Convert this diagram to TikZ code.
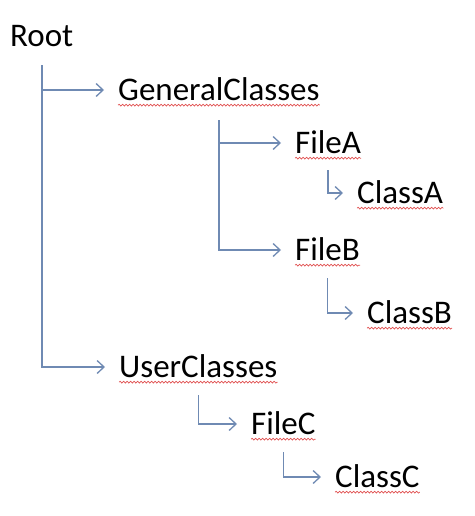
\documentclass[tikz,border=0pt]{standalone}
\usepackage{fontspec}
\setmainfont{Carlito}
\usetikzlibrary{arrows.meta,decorations.pathmorphing}
\definecolor{linkblue}{HTML}{6F8AB3}
\definecolor{spellred}{HTML}{E05050}
\tikzset{
  label/.style={anchor=base west,inner sep=0pt,text height=20pt,text depth=0pt,
    font=\fontsize{33}{39}\selectfont},
  link/.style={draw=linkblue,line width=1.5pt,
    -{Straight Barb[length=7pt,width=13pt,line width=1.3pt]}},
  squiggle/.style={draw=spellred,line width=0.7pt,
    decorate,decoration={snake,segment length=3.5pt,amplitude=0.9pt}}
}
\begin{document}
\begin{tikzpicture}[x=1pt,y=-1pt]
\useasboundingbox (0,0) rectangle (474,516);
\node[label] (root) at (10,47) {Root};
\node[label] (gc) at (118,100) {GeneralClasses};
\node[label] (fa) at (295,153) {FileA};
\node[label] (ca) at (357,203) {ClassA};
\node[label] (fb) at (295,260) {FileB};
\node[label] (cb) at (367,323) {ClassB};
\node[label] (uc) at (119,377) {UserClasses};
\node[label] (fc) at (251,434) {FileC};
\node[label] (cc) at (335,487) {ClassC};

\draw[link] ([yshift=-18pt]root.south) |- ([xshift=-14pt]gc.west);
\draw[link] ([yshift=-18pt]root.south) |- ([xshift=-14pt]uc.west);
\draw[link] ([yshift=-20pt]gc.south) |- ([xshift=-14pt]fa.west);
\draw[link] ([yshift=-20pt]gc.south) |- ([xshift=-14pt]fb.west);
\draw[link] ([yshift=-17pt]fa.south) |- ([xshift=-14pt]ca.west);
\draw[link] ([yshift=-18pt]fb.south) |- ([xshift=-14pt]cb.west);
\draw[link] ([yshift=-18pt]uc.south) |- ([xshift=-14pt]fc.west);
\draw[link] ([yshift=-18pt]fc.south) |- ([xshift=-14pt]cc.west);

\foreach \n in {gc,fa,ca,fb,cb,uc,fc,cc}
  \draw[squiggle] ([yshift=-5pt]\n.south west) -- ([yshift=-5pt]\n.south east);
\end{tikzpicture}
\end{document}
